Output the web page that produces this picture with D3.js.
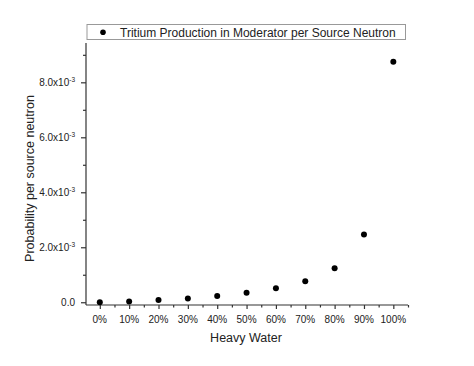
<!DOCTYPE html>
<html>
<head>
<meta charset="utf-8">
<script src="https://cdn.jsdelivr.net/npm/d3@7"></script>
<style>
  body { margin: 0; background: #fff; }
  text { font-family: "Liberation Sans", Arial, sans-serif; fill: #222; }
</style>
</head>
<body>
<div id="chart"></div>
<script>
  // heavy water fraction categories
  const categories = ['0%', '10%', '20%', '30%', '40%', '50%', '60%', '70%', '80%', '90%', '100%'];
  // tritium production per source neutron (x1e-3)
  const tritium = [0.0, 0.03, 0.08, 0.14, 0.23, 0.35, 0.51, 0.76, 1.24, 2.46, 8.75];
  const yTicks = [0, 2, 4, 6, 8];
  const legendLabel = 'Tritium Production in Moderator per Source Neutron';

  const width = 474, height = 366;
  const svg = d3.select('#chart').append('svg')
    .attr('width', width).attr('height', height);

  let x = d3.scaleLinear().domain([-0.47, 10.5]).range([86, 408]);
  let y = d3.scaleLinear().domain([-0.1, 9.43]).range([305, 43]);

  // left axis
  let yAxis = d3.axisLeft(y)
    .tickValues(d3.range(0, 9.1, 1))
    .tickSize(5)
    .tickFormat('');
  let gy = svg.append('g').attr('transform', 'translate(86,0)').call(yAxis);
  gy.select('.domain').attr('d', `M0,${y(9.43)}V${y(-0.1)}`);
  gy.selectAll('.tick line')
    .attr('x2', d => (d % 2 === 0) ? -5 : -3);
  gy.selectAll('path, line').attr('stroke', '#333').attr('stroke-width', 1.2);

  // y tick labels with superscript
  yTicks.forEach(v => {
    let t = svg.append('text')
      .attr('x', 75)
      .attr('y', y(v) + 3.5)
      .attr('text-anchor', 'end')
      .style('font-size', '10px');
    if (v === 0) {
      t.text('0.0');
    } else {
      t.append('tspan').text(v.toFixed(1) + 'x10');
      t.append('tspan').attr('dy', -4).style('font-size', '6.5px').text('-3');
    }
  });

  // bottom axis
  let xAxis = d3.axisBottom(x)
    .tickValues(d3.range(-0.5, 10.6, 0.5).filter(d => d >= -0.47))
    .tickSize(4)
    .tickFormat('');
  let gx = svg.append('g').attr('transform', 'translate(0,305)').call(xAxis);
  gx.select('.domain').attr('d', `M86,0H408`);
  gx.selectAll('.tick line')
    .attr('y2', d => Number.isInteger(d) ? 4 : 2.5);
  gx.selectAll('path, line').attr('stroke', '#333').attr('stroke-width', 1.2);

  svg.selectAll('.xlab').data(categories).enter().append('text')
    .attr('class', 'xlab')
    .attr('x', (d, i) => x(i))
    .attr('y', 323)
    .attr('text-anchor', 'middle')
    .style('font-size', '10px')
    .text(d => d);

  // axis titles
  svg.append('text')
    .attr('x', 246).attr('y', 342)
    .attr('text-anchor', 'middle')
    .style('font-size', '12.5px')
    .text('Heavy Water');

  svg.append('text')
    .attr('transform', `translate(34,${y(4.5)}) rotate(-90)`)
    .attr('text-anchor', 'middle')
    .style('font-size', '12.5px')
    .text('Probability per source neutron');

  // points
  svg.selectAll('.pt').data(tritium).enter().append('circle')
    .attr('class', 'pt')
    .attr('cx', (d, i) => x(i))
    .attr('cy', d => y(d))
    .attr('r', 3)
    .attr('fill', '#000');

  // legend
  svg.append('rect')
    .attr('x', 87).attr('y', 24.5)
    .attr('width', 318.5).attr('height', 15)
    .attr('fill', '#fff')
    .attr('stroke', '#999').attr('stroke-width', 1);
  svg.append('circle').attr('cx', 103).attr('cy', 32.3).attr('r', 2.8).attr('fill', '#000');
  svg.append('text')
    .attr('x', 120).attr('y', 36.5)
    .style('font-size', '12px')
    .text(legendLabel);
</script>
</body>
</html>
